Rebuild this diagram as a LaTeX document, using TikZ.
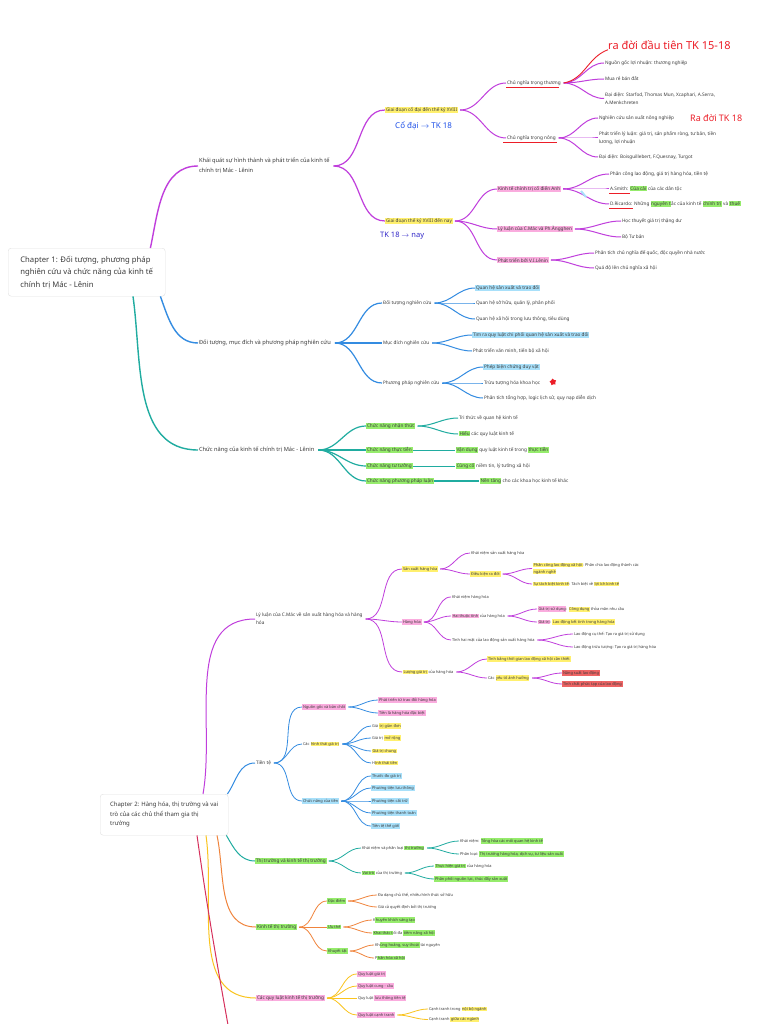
\documentclass[tikz,border=0pt]{standalone}
\usepackage{fontspec}
\setmainfont{Noto Sans}
\usetikzlibrary{shapes.geometric}

\definecolor{cPurple}{RGB}{192,62,220}
\definecolor{cBlue}{RGB}{52,140,225}
\definecolor{cTeal}{RGB}{32,172,160}
\definecolor{cOrange}{RGB}{240,132,60}
\definecolor{cYellow}{RGB}{250,196,30}
\definecolor{cCrimson}{RGB}{214,48,92}
\definecolor{hlYellow}{RGB}{255,240,110}
\definecolor{hlPink}{RGB}{250,172,222}
\definecolor{hlBlue}{RGB}{168,224,250}
\definecolor{hlGreen}{RGB}{150,236,108}
\definecolor{hlRed}{RGB}{238,100,100}
\definecolor{inkRed}{RGB}{236,30,40}
\definecolor{inkBlue}{RGB}{30,80,232}
\definecolor{inkNavy}{RGB}{50,40,200}
\definecolor{txt}{RGB}{60,60,60}

\newcommand{\topicfont}{\fontsize{5.7}{10}\selectfont}
\newcommand{\leaffont}{\fontsize{4.7}{8}\selectfont}
\newcommand{\tinyleaffont}{\fontsize{3.9}{7}\selectfont}
\newcommand{\hl}[2]{{\setlength{\fboxsep}{0.5pt}\colorbox{#1}{#2}}}

\begin{document}
\begin{tikzpicture}[x=1pt, y=-1pt,
    chapter/.style={
        rectangle, draw=black!12, fill=white, rounded corners=3pt,
        anchor=north west, align=left, text=txt
    },
    mm/.style={anchor=west, inner xsep=0.8pt, inner ysep=0.6pt, align=left, text=txt},
    topic/.style={mm, font=\topicfont},
    leaf/.style={mm, font=\leaffont},
    tinyleaf/.style={mm, font=\tinyleaffont},
    hy/.style={fill=hlYellow},
    hp/.style={fill=hlPink},
    hb/.style={fill=hlBlue},
    hg/.style={fill=hlGreen},
    hr/.style={fill=hlRed},
    ink/.style={anchor=west, inner sep=0pt},
    fork/.style={out=0, in=180},
    lpur/.style={draw=cPurple, line width=1pt},
    lblu/.style={draw=cBlue, line width=1pt},
    ltea/.style={draw=cTeal, line width=1pt},
    lora/.style={draw=cOrange, line width=1pt},
    lyel/.style={draw=cYellow, line width=1pt},
    lcri/.style={draw=cCrimson, line width=1pt},
    lred/.style={draw=inkRed, line width=0.9pt}
    ]

    \fill[white] (0,0) rectangle (768,1024);
    \useasboundingbox (0,0) rectangle (768,1024);

    % Chapter 1
    \node[chapter, minimum width=157pt, minimum height=48pt,
        font=\fontsize{7.7}{12.5}\selectfont] (ch1) at (8,248)
        {Chapter 1: Đối tượng, phương pháp\\nghiên cứu và chức năng của kinh tế\\chính trị Mác - Lênin};

    % main topics
    \node[topic] (kq) at (198,166) {Khái quát sự hình thành và phát triển của kinh tế\\chính trị Mác - Lênin};
    \node[topic] (dt) at (198,343) {Đối tượng, mục đích và phương pháp nghiên cứu};
    \node[topic] (cn) at (198,450) {Chức năng của kinh tế chính trị Mác - Lênin};

    % stages
    \node[leaf, hy] (gd1) at (385,110) {Giai đoạn cổ đại đến thế kỷ XVIII};
    \node[leaf, hy] (gd2) at (385,221) {Giai đoạn thế kỷ XVIII đến nay};

    % early schools
    \node[leaf] (tt) at (506,83) {Chủ nghĩa trọng thương};
    \node[leaf] (tn) at (506,138) {Chủ nghĩa trọng nông};
    \node[leaf] (tt1) at (604,63) {Nguồn gốc lợi nhuận: thương nghiệp};
    \node[leaf] (tt2) at (604,79) {Mua rẻ bán đắt};
    \node[leaf] (tt3) at (604,98.5) {Đại diện: Starfod, Thomas Mun, Xcaphari, A.Serra,\\A.Menkchreten};
    \node[leaf] (tn1) at (598,118) {Nghiên cứu sản xuất nông nghiệp};
    \node[leaf] (tn2) at (598,138) {Phát triển lý luận: giá trị, sản phẩm ròng, tư bản, tiền\\lương, lợi nhuận};
    \node[leaf] (tn3) at (598,157) {Đại diện: Boisguillebert, F.Quesnay, Turgot};

    % modern schools
    \node[leaf, hp] (cd) at (497,189) {Kinh tế chính trị cổ điển Anh};
    \node[leaf, hp] (ma) at (497,229) {Lý luận của C.Mác và Ph.Ăngghen};
    \node[leaf, hp] (le) at (497,260) {Phát triển bởi V.I.Lênin};
    \node[leaf] (cd1) at (609,174) {Phân công lao động, giá trị hàng hóa, tiền tệ};
    \node[leaf] (cd2) at (609,189) {A.Smith: \hl{hlGreen}{Của cải} của các dân tộc};
    \node[leaf] (cd3) at (609,204) {D.Ricardo: Những \hl{hlGreen}{nguyên t}ắc của kinh tế \hl{hlGreen}{chính trị} và \hl{hlGreen}{thuế}};
    \node[leaf] (ma1) at (621,221) {Học thuyết giá trị thặng dư};
    \node[leaf] (ma2) at (621,237) {Bộ Tư bản};
    \node[leaf] (le1) at (594,253) {Phân tích chủ nghĩa đế quốc, độc quyền nhà nước};
    \node[leaf] (le2) at (594,268) {Quá độ lên chủ nghĩa xã hội};

    % handwritten notes
    \node[ink, text=inkRed, font=\fontsize{11}{11}\selectfont] (note1) at (608,45) {ra đời đầu tiên TK 15-18};
    \node[ink, text=inkRed, font=\fontsize{9}{9}\selectfont] (note2) at (690,118) {Ra đời TK 18};
    \node[ink, text=inkBlue, font=\fontsize{8}{8}\selectfont] (note3) at (395,126) {Cổ đại $\rightarrow$ TK 18};
    \node[ink, text=inkNavy, font=\fontsize{7.5}{8}\selectfont] (note4) at (380,236) {TK 18 $\rightarrow$ nay};

    % object, goal, method
    \node[leaf] (ob) at (382,303) {Đối tượng nghiên cứu};
    \node[leaf] (go) at (382,343) {Mục đích nghiên cứu};
    \node[leaf] (me) at (382,383) {Phương pháp nghiên cứu};
    \node[leaf, hb] (ob1) at (475,288) {Quan hệ sản xuất và trao đổi};
    \node[leaf] (ob2) at (475,303) {Quan hệ sở hữu, quản lý, phân phối};
    \node[leaf] (ob3) at (475,319) {Quan hệ xã hội trong lưu thông, tiêu dùng};
    \node[leaf, hb] (go1) at (472,335) {Tìm ra quy luật chi phối quan hệ sản xuất và trao đổi};
    \node[leaf] (go2) at (472,351) {Phát triển văn minh, tiến bộ xã hội};
    \node[leaf, hb] (me1) at (483,367) {Phép biện chứng duy vật};
    \node[leaf] (me2) at (483,383) {Trừu tượng hóa khoa học};
    \node[leaf] (me3) at (483,398) {Phân tích tổng hợp, logic lịch sử, quy nạp diễn dịch};
    \node[star, star points=5, fill=inkRed, minimum size=7pt, inner sep=0pt, rotate=10] (mark) at (553,382) {};

    % functions
    \node[leaf, hg] (fn1) at (366,426) {Chức năng nhận thức};
    \node[leaf, hg] (fn2) at (366,450) {Chức năng thực tiễn};
    \node[leaf, hg] (fn3) at (366,466) {Chức năng tư tưởng};
    \node[leaf, hg] (fn4) at (366,481) {Chức năng phương pháp luận};
    \node[leaf] (fn11) at (458,418) {Tri thức về quan hệ kinh tế};
    \node[leaf] (fn12) at (458,434) {\hl{hlGreen}{Hiểu} các quy luật kinh tế};
    \node[leaf] (fn21) at (455,450) {\hl{hlGreen}{Vận dụng} quy luật kinh tế trong \hl{hlGreen}{thực tiễn}};
    \node[leaf] (fn31) at (455,466) {\hl{hlGreen}{Củng cố} niềm tin, lý tưởng xã hội};
    \node[leaf] (fn41) at (479,481) {\hl{hlGreen}{Nền tảng} cho các khoa học kinh tế khác};

    % Chapter 1 connectors
    \draw[lpur, line width=1.4pt] ([xshift=-15pt]ch1.north east) to[out=78, in=180] (kq.west);
    \draw[lblu, line width=1.4pt] ([xshift=-5pt]ch1.south east) to[out=-70, in=180] (dt.west);
    \draw[ltea, line width=1.4pt] ([xshift=125pt]ch1.south west) to[out=-82, in=180] (cn.west);
    \foreach \c in {gd1,gd2} \draw[lpur, line width=1.2pt] ([xshift=3pt]kq.east) to[fork] (\c.west);
    \foreach \c in {tt,tn} \draw[lpur] ([xshift=2pt]gd1.east) to[fork] (\c.west);
    \foreach \c in {tt1,tt2,tt3} \draw[lpur] ([xshift=2pt]tt.east) to[fork] (\c.west);
    \draw[lred] ([xshift=2pt]tt.east) to[out=10, in=200] (note1.south west);
    \foreach \c in {tn1,tn2,tn3} \draw[lpur] ([xshift=2pt]tn.east) to[fork] (\c.west);
    \foreach \c in {cd,ma,le} \draw[lpur] ([xshift=2pt]gd2.east) to[fork] (\c.west);
    \foreach \c in {cd1,cd2,cd3} \draw[lpur] ([xshift=2pt]cd.east) to[fork] (\c.west);
    \foreach \c in {ma1,ma2} \draw[lpur] ([xshift=2pt]ma.east) to[fork] (\c.west);
    \foreach \c in {le1,le2} \draw[lpur] ([xshift=2pt]le.east) to[fork] (\c.west);
    \foreach \c in {ob,go,me} \draw[lblu, line width=1.2pt] ([xshift=3pt]dt.east) to[fork] (\c.west);
    \foreach \c in {ob1,ob2,ob3} \draw[lblu] ([xshift=2pt]ob.east) to[fork] (\c.west);
    \foreach \c in {go1,go2} \draw[lblu] ([xshift=2pt]go.east) to[fork] (\c.west);
    \foreach \c in {me1,me2,me3} \draw[lblu] ([xshift=2pt]me.east) to[fork] (\c.west);
    \foreach \c in {fn1,fn2,fn3,fn4} \draw[ltea, line width=1.2pt] ([xshift=3pt]cn.east) to[fork] (\c.west);
    \foreach \c in {fn11,fn12} \draw[ltea] ([xshift=2pt]fn1.east) to[fork] (\c.west);
    \draw[ltea] (fn2.east) -- (fn21.west);
    \draw[ltea] (fn3.east) -- (fn31.west);
    \draw[ltea, line width=1.6pt] (fn4.east) -- (fn41.west);

    % red underlines
    \draw[lred] ([yshift=-1pt]tt.south west) -- ([yshift=-1pt,xshift=-3pt]tt.south east);
    \draw[lred] ([yshift=-1.5pt,xshift=-3pt]tn.south west) -- ([yshift=-1.5pt]tn.south east);
    \draw[lred, line width=0.7pt] ([yshift=-0.5pt]cd2.south west) -- ++(21,0);
    \draw[lred, line width=0.7pt] ([yshift=-0.5pt]cd3.south west) -- ++(24,0);
    \draw[hlBlue, line width=2pt] (581,191) -- (586,197);

    % Chapter 2
    \node[chapter, minimum width=128pt, minimum height=41pt,
        font=\fontsize{6}{9.5}\selectfont] (ch2) at (100,794)
        {Chapter 2: Hàng hóa, thị trường và vai\\trò của các chủ thể tham gia thị\\trường};

    % main topics
    \node[leaf] (ll) at (255,619) {Lý luận của C.Mác về sản xuất hàng hóa và hàng\\hóa};
    \node[leaf] (tien) at (255,763) {Tiền tệ};
    \node[leaf, hg] (ttr) at (255,861) {Thị trường và kinh tế thị trường};
    \node[leaf, hg] (kt) at (256,927) {Kinh tế thị trường};
    \node[leaf, hp] (ql) at (256,998) {Các quy luật kinh tế thị trường};
    \coordinate (below) at (236,1070);

    % commodity theory
    \node[tinyleaf, hy] (sx) at (402,569) {Sản xuất hàng hóa};
    \node[tinyleaf, hp] (hh) at (402,622) {Hàng hóa};
    \node[tinyleaf] (lg) at (402,672) {\hl{hlYellow}{Lượng giá trị} của hàng hóa};
    \node[tinyleaf] (sx1) at (470,553) {Khái niệm sản xuất hàng hóa};
    \node[tinyleaf, hy] (sx2) at (470,574) {Điều kiện ra đời};
    \node[tinyleaf] (sx21) at (532,568.5) {\hl{hlYellow}{Phân công lao động xã hội}: Phân chia lao động thành các\\\hl{hlYellow}{ngành nghề}};
    \node[tinyleaf] (sx22) at (532,584) {\hl{hlYellow}{Sự tách biệt kinh tế}: Tách biệt về \hl{hlYellow}{lợi ích kinh tế}};
    \node[tinyleaf] (hh1) at (451,597) {Khái niệm hàng hóa};
    \node[tinyleaf] (hh2) at (451,616) {\hl{hlPink}{Hai thuộc tính} của hàng hóa};
    \node[tinyleaf] (hh3) at (451,640) {Tính hai mặt của lao động sản xuất hàng hóa};
    \node[tinyleaf] (hh21) at (537,609) {\hl{hlPink}{Giá trị sử dụng}: \hl{hlYellow}{Công dụng} thỏa mãn nhu cầu};
    \node[tinyleaf] (hh22) at (537,622) {\hl{hlPink}{Giá trị}: \hl{hlYellow}{Lao động kết tinh trong hàng hóa}};
    \node[tinyleaf] (hh31) at (573,634) {Lao động cụ thể: Tạo ra giá trị sử dụng};
    \node[tinyleaf] (hh32) at (573,647) {Lao động trừu tượng: Tạo ra giá trị hàng hóa};
    \node[tinyleaf, hy] (lg1) at (487,659) {Tính bằng thời gian lao động xã hội cần thiết};
    \node[tinyleaf] (lg2) at (487,678) {Các \hl{hlYellow}{yếu tố ảnh hưởng}};
    \node[tinyleaf, hr] (lg21) at (562,673) {Năng suất lao động};
    \node[tinyleaf, hr] (lg22) at (562,684) {Tính chất phức tạp của lao động};

    % money
    \node[tinyleaf, hp] (ng) at (302,707) {Nguồn gốc và bản chất};
    \node[tinyleaf] (ht) at (302,744) {Các \hl{hlYellow}{hình thái giá trị}};
    \node[tinyleaf, hb] (ct) at (302,801) {Chức năng của tiền};
    \node[tinyleaf, hp] (ng1) at (378,700) {Phát triển từ trao đổi hàng hóa};
    \node[tinyleaf, hp] (ng2) at (378,713) {Tiền là hàng hóa đặc biệt};
    \node[tinyleaf] (ht1) at (371,726) {Giá \hl{hlYellow}{trị giản đơn}};
    \node[tinyleaf] (ht2) at (371,738) {Giá trị \hl{hlYellow}{mở rộng}};
    \node[tinyleaf] (ht3) at (371,751) {\hl{hlYellow}{Giá trị chung}};
    \node[tinyleaf] (ht4) at (371,763) {H\hl{hlYellow}{ình thái tiền}};
    \node[tinyleaf, hb] (ct1) at (371,776) {Thước đo giá trị};
    \node[tinyleaf, hb] (ct2) at (371,788) {Phương tiện lưu thông};
    \node[tinyleaf, hb] (ct3) at (371,801) {Phương tiện cất trữ};
    \node[tinyleaf, hb] (ct4) at (371,813) {Phương tiện thanh toán};
    \node[tinyleaf, hb] (ct5) at (371,826) {Tiền tệ thế giới};

    % market
    \node[tinyleaf] (pl) at (361,848) {Khái niệm và phân loại \hl{hlGreen}{thị trường}};
    \node[tinyleaf] (vt) at (361,873) {\hl{hlGreen}{Vai trò} của thị trường};
    \node[tinyleaf] (pl1) at (459,841) {Khái niệm: \hl{hlGreen}{Tổng hòa các mối quan hệ kinh tế}};
    \node[tinyleaf] (pl2) at (459,854) {Phân loại: \hl{hlGreen}{Thị trường hàng hóa, dịch vụ, tư liệu sản xuất}};
    \node[tinyleaf] (vt1) at (434,866) {\hl{hlGreen}{Thực hiện giá trị} của hàng hóa};
    \node[tinyleaf, hg] (vt2) at (434,879) {Phân phối nguồn lực, thúc đẩy sản xuất};

    % market economy
    \node[tinyleaf, hg] (dd) at (327,901) {Đặc điểm};
    \node[tinyleaf, hg] (ut) at (327,927) {Ưu thế};
    \node[tinyleaf, hg] (kh) at (327,951) {Khuyết tật};
    \node[tinyleaf] (dd1) at (377,895) {Đa dạng chủ thể, nhiều hình thức sở hữu};
    \node[tinyleaf] (dd2) at (377,907) {Giá cả quyết định bởi thị trường};
    \node[tinyleaf] (ut1) at (372,920) {K\hl{hlGreen}{huyến khích sáng tạo}};
    \node[tinyleaf] (ut2) at (372,933) {\hl{hlGreen}{Khai thác t}ối đa \hl{hlGreen}{tiềm năng xã hội}};
    \node[tinyleaf] (kh1) at (374,945) {Kh\hl{hlGreen}{ủng hoảng, suy thoái} tài nguyên};
    \node[tinyleaf] (kh2) at (374,958) {P\hl{hlGreen}{hân hóa xã hội}};

    % laws
    \node[tinyleaf, hp] (ql1) at (357,974) {Quy luật giá trị};
    \node[tinyleaf, hp] (ql2) at (357,986) {Quy luật cung - cầu};
    \node[tinyleaf] (ql3) at (357,998) {Quy luật \hl{hlPink}{lưu thông tiền tệ}};
    \node[tinyleaf, hp] (ql4) at (357,1015) {Quy luật cạnh tranh};
    \node[tinyleaf] (ql41) at (428,1009) {Cạnh tranh trong \hl{hlYellow}{nội bộ ngành}};
    \node[tinyleaf] (ql42) at (428,1019.5) {Cạnh tranh \hl{hlYellow}{giữa các ngành}};

    % Chapter 2 connectors
    \draw[lpur] ([xshift=103pt]ch2.north west) to[out=80, in=180] (ll.west);
    \draw[lblu] ([xshift=-1pt]ch2.north east) to[out=55, in=180] (tien.west);
    \draw[ltea] ([xshift=-2pt]ch2.south east) to[out=-60, in=180] (ttr.west);
    \draw[lora] ([xshift=117pt]ch2.south west) to[out=-78, in=180] (kt.west);
    \draw[lyel] ([xshift=106pt]ch2.south west) to[out=-82, in=180] (ql.west);
    \draw[lcri] ([xshift=97pt]ch2.south west) to[out=-82, in=100] (below);
    \foreach \c in {sx,hh,lg} \draw[lpur, line width=0.8pt] ([xshift=2pt]ll.east) to[fork] (\c.west);
    \foreach \c in {sx1,sx2} \draw[lpur, line width=0.8pt] ([xshift=2pt]sx.east) to[fork] (\c.west);
    \foreach \c in {sx21,sx22} \draw[lpur, line width=0.8pt] ([xshift=2pt]sx2.east) to[fork] (\c.west);
    \foreach \c in {hh1,hh2,hh3} \draw[lpur, line width=0.8pt] ([xshift=2pt]hh.east) to[fork] (\c.west);
    \foreach \c in {hh21,hh22} \draw[lpur, line width=0.8pt] ([xshift=2pt]hh2.east) to[fork] (\c.west);
    \foreach \c in {hh31,hh32} \draw[lpur, line width=0.8pt] ([xshift=2pt]hh3.east) to[fork] (\c.west);
    \foreach \c in {lg1,lg2} \draw[lpur, line width=0.8pt] ([xshift=2pt]lg.east) to[fork] (\c.west);
    \foreach \c in {lg21,lg22} \draw[lpur, line width=0.8pt] ([xshift=2pt]lg2.east) to[fork] (\c.west);
    \foreach \c in {ng,ht,ct} \draw[lblu, line width=0.8pt] ([xshift=2pt]tien.east) to[fork] (\c.west);
    \foreach \c in {ng1,ng2} \draw[lblu, line width=0.8pt] ([xshift=2pt]ng.east) to[fork] (\c.west);
    \foreach \c in {ht1,ht2,ht3,ht4} \draw[lblu, line width=0.8pt] ([xshift=2pt]ht.east) to[fork] (\c.west);
    \foreach \c in {ct1,ct2,ct3,ct4,ct5} \draw[lblu, line width=0.8pt] ([xshift=2pt]ct.east) to[fork] (\c.west);
    \foreach \c in {pl,vt} \draw[ltea, line width=0.8pt] ([xshift=2pt]ttr.east) to[fork] (\c.west);
    \foreach \c in {pl1,pl2} \draw[ltea, line width=0.8pt] ([xshift=2pt]pl.east) to[fork] (\c.west);
    \foreach \c in {vt1,vt2} \draw[ltea, line width=0.8pt] ([xshift=2pt]vt.east) to[fork] (\c.west);
    \foreach \c in {dd,ut,kh} \draw[lora, line width=0.8pt] ([xshift=2pt]kt.east) to[fork] (\c.west);
    \foreach \c in {dd1,dd2} \draw[lora, line width=0.8pt] ([xshift=2pt]dd.east) to[fork] (\c.west);
    \foreach \c in {ut1,ut2} \draw[lora, line width=0.8pt] ([xshift=2pt]ut.east) to[fork] (\c.west);
    \foreach \c in {kh1,kh2} \draw[lora, line width=0.8pt] ([xshift=2pt]kh.east) to[fork] (\c.west);
    \foreach \c in {ql1,ql2,ql3,ql4} \draw[lyel, line width=0.8pt] ([xshift=2pt]ql.east) to[fork] (\c.west);
    \foreach \c in {ql41,ql42} \draw[lyel, line width=0.8pt] ([xshift=2pt]ql4.east) to[fork] (\c.west);
\end{tikzpicture}
\end{document}
